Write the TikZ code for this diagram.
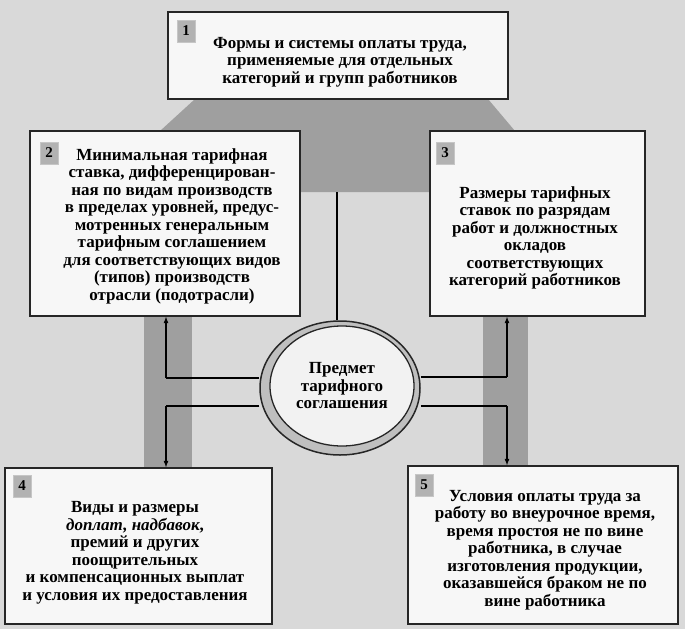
\documentclass[tikz,border=0pt]{standalone}
\usepackage{fontspec}
\setmainfont{Liberation Serif}
\usepackage{tikz}
\usetikzlibrary{shapes.geometric}
\begin{document}
\begin{tikzpicture}[x=1pt,y=-1pt,
  box/.style={draw=black!85,line width=1.5pt,fill=gray!6,align=center,
    font=\fontsize{17}{17.5}\selectfont\bfseries,inner sep=0pt},
  txt/.style={align=center,font=\fontsize{17}{17.5}\selectfont\bfseries,inner sep=0pt},
  num/.style={fill=gray!60,draw=gray!45,minimum width=18pt,minimum height=22pt,
    inner sep=0pt,font=\fontsize{15}{17}\selectfont\bfseries},
  bar/.style={fill=gray!75,draw=none},
  link/.style={line width=1.2pt,-latex}]
\fill[gray!30] (0,0) rectangle (685,629);
% dark underlays
\fill[gray!75] (195,99) -- (488,99) -- (515,131) -- (430,131) -- (430,192)
  -- (300,192) -- (300,131) -- (160,131) -- cycle;
\fill[bar] (144,316) rectangle (192,468);
\fill[bar] (483,316) rectangle (528,466);
% boxes
\node[box,minimum width=340pt,minimum height=87pt] (b1) at (338,55.5) {};
\node[txt] (t1) at (340,62)
  {Формы и системы оплаты труда,\\применяемые для отдельных\\категорий и групп работников};
\node[box,minimum width=270pt,minimum height=185pt] (b2) at (165,223.5) {};
\node[txt] (t2) at (172,226)
  {Минимальная тарифная\\ставка, дифференцирован-\\ная по видам производств\\в пределах уровней, предус-\\мотренных генеральным\\тарифным соглашением\\для соответствующих видов\\(типов) производств\\отрасли (подотрасли)};
\node[box,minimum width=215pt,minimum height=185pt] (b3) at (537.5,223.5) {};
\node[txt] (t3) at (535,238)
  {Размеры тарифных\\ставок по разрядам\\работ и должностных\\окладов\\соответствующих\\категорий работников};
\node[box,minimum width=267pt,minimum height=156pt] (b4) at (138.5,546) {};
\node[txt] (t4) at (135,553)
  {Виды и размеры\\\textit{доплат, надбавок},\\премий и других\\поощрительных\\и компенсационных выплат\\и условия их предоставления};
\node[box,minimum width=270pt,minimum height=158pt] (b5) at (543,545) {};
\node[txt] (t5) at (545,550)
  {Условия оплаты труда за\\работу во внеурочное время,\\время простоя не по вине\\работника, в случае\\изготовления продукции,\\оказавшейся браком не по\\вине работника};
% numbers
\node[num] (n1) at (186,31) {1};
\node[num] (n2) at (49,153) {2};
\node[num] (n3) at (445,153) {3};
\node[num] (n4) at (22,486) {4};
\node[num] (n5) at (424,485) {5};
% centre
\node[ellipse,draw=black!85,line width=1.5pt,fill=gray!50,minimum width=160pt,
  minimum height=134pt] (ring) at (340,388) {};
\node[ellipse,draw=black!85,line width=1.3pt,fill=gray!10,minimum width=144pt,
  minimum height=120pt,align=center,font=\fontsize{17}{17.5}\selectfont\bfseries]
  (c) at (342,386) {Предмет\\тарифного\\соглашения};
% connectors
\coordinate (top) at (337,192);
\draw[line width=1.2pt] (top) -- (top |- ring.north);
\coordinate (lu) at (166,378);
\coordinate (ld) at (166,406);
\coordinate (ru) at (507,377);
\coordinate (rd) at (507,406);
\draw[line width=1.2pt] (ring.west |- lu) -- (lu);
\draw[line width=1.2pt] (ring.west |- ld) -- (ld);
\draw[line width=1.2pt] (ring.east |- ru) -- (ru);
\draw[line width=1.2pt] (ring.east |- rd) -- (rd);
\draw[link] (lu) -- (lu |- b2.south);
\draw[link] (ld) -- (ld |- b4.north);
\draw[link] (ru) -- (ru |- b3.south);
\draw[link] (rd) -- (rd |- b5.north);
\end{tikzpicture}
\end{document}
